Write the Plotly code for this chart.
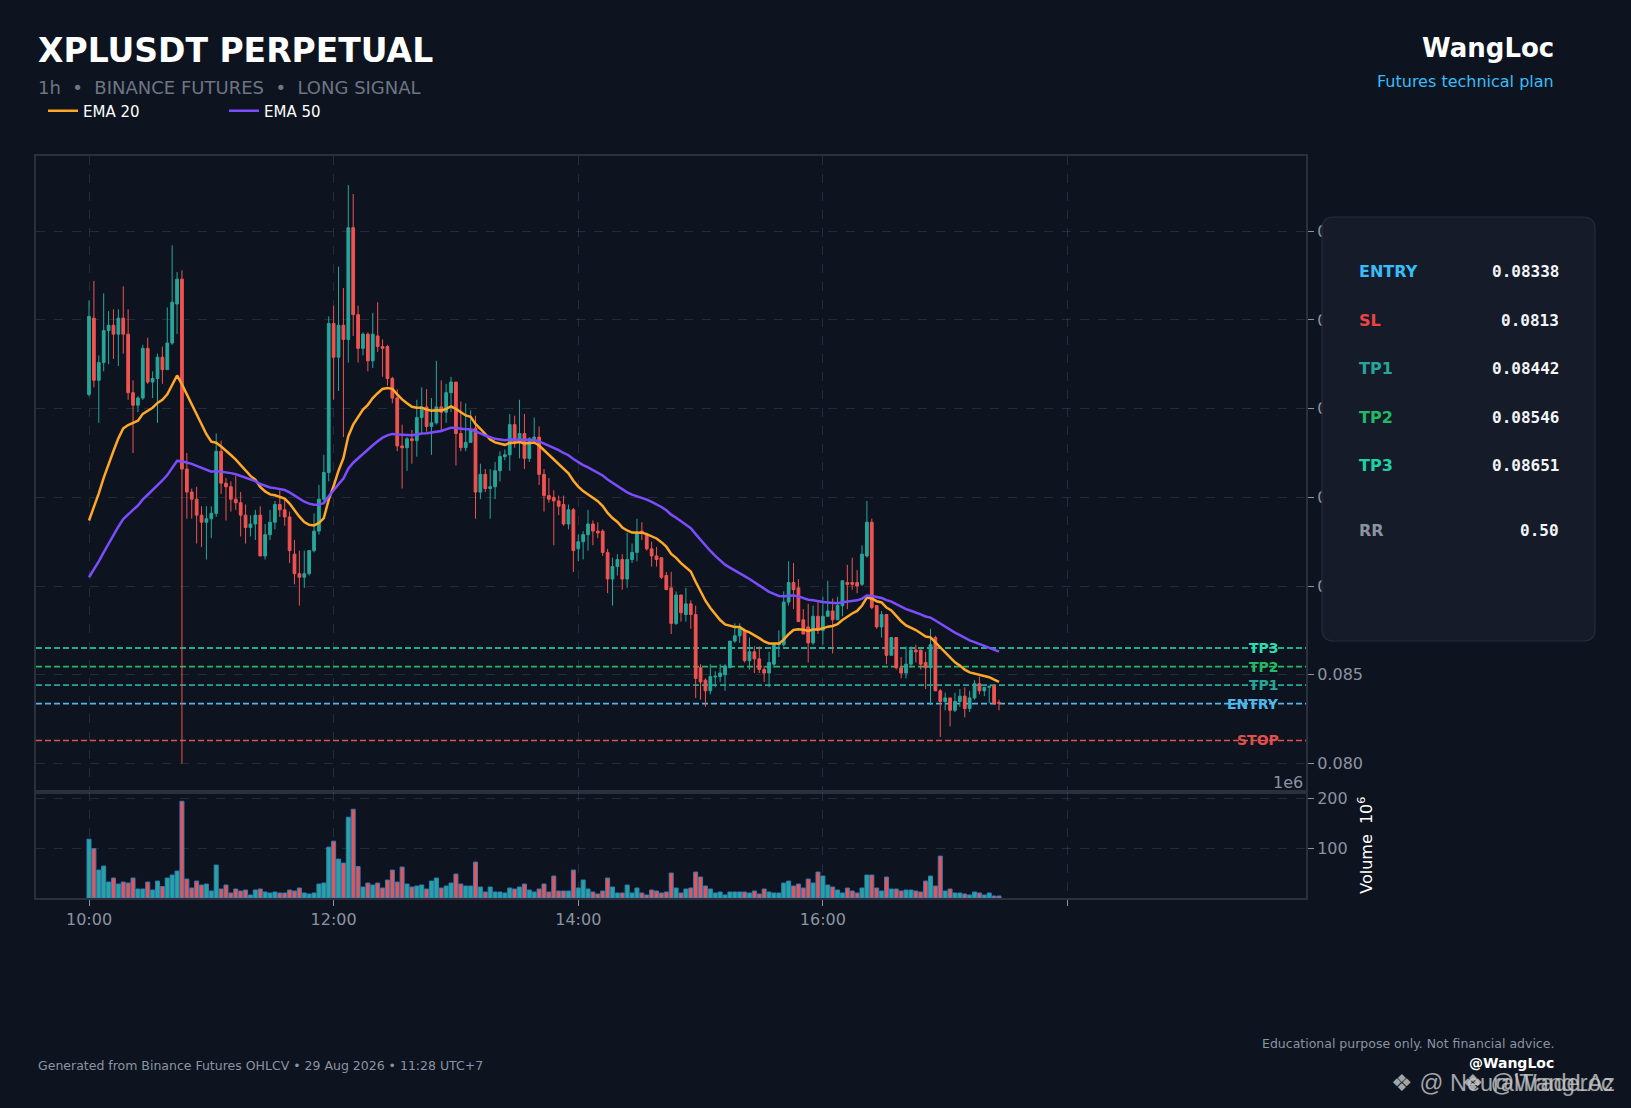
import pandas as pd
import plotly.graph_objects as go

# ---- values ----
START = "2026-08-29 10:00"
BAR_SECONDS = 144  # spacing of the candles on the time axis

open_ = [
    0.1008, 0.1051, 0.1016, 0.1026, 0.1044, 0.1047, 0.1042, 0.1051, 0.1042, 0.1009,
    0.1002, 0.1006, 0.1034, 0.1015, 0.1017, 0.1029, 0.1022, 0.1037, 0.1059, 0.1073,
    0.0966, 0.0953, 0.0949, 0.0940, 0.0936, 0.0938, 0.0941, 0.0976, 0.0958, 0.0956,
    0.0949, 0.0947, 0.0940, 0.0933, 0.0935, 0.0940, 0.0917, 0.0929, 0.0936, 0.0946,
    0.0943, 0.0939, 0.0918, 0.0907, 0.0905, 0.0907, 0.0920, 0.0931, 0.0949, 0.0964,
    0.1048, 0.1029, 0.1047, 0.1039, 0.1102, 0.1053, 0.1034, 0.1042, 0.1027, 0.1041,
    0.1035, 0.1035, 0.1017, 0.1006, 0.0979, 0.0978, 0.0983, 0.0982, 0.0995, 0.1001,
    0.0990, 0.0992, 0.1001, 0.0998, 0.1009, 0.1015, 0.0986, 0.0978, 0.0981, 0.0989,
    0.0953, 0.0963, 0.0955, 0.0956, 0.0965, 0.0973, 0.0974, 0.0991, 0.0981, 0.0986,
    0.0972, 0.0983, 0.0984, 0.0963, 0.0951, 0.0950, 0.0948, 0.0946, 0.0935, 0.0943,
    0.0921, 0.0925, 0.0929, 0.0935, 0.0931, 0.0931, 0.0919, 0.0904, 0.0911, 0.0915,
    0.0904, 0.0915, 0.0919, 0.0931, 0.0929, 0.0921, 0.0917, 0.0916, 0.0906, 0.0899,
    0.0879, 0.0895, 0.0884, 0.0890, 0.0884, 0.0854, 0.0847, 0.0841, 0.08488, 0.0849,
    0.0850, 0.0854, 0.0869, 0.0872, 0.0875, 0.0858, 0.0863, 0.0859, 0.0853, 0.0851,
    0.0856, 0.0867, 0.0867, 0.0891, 0.0902, 0.0899, 0.0881, 0.0877, 0.0868, 0.0883,
    0.0875, 0.0883, 0.0886, 0.0881, 0.0889, 0.0902, 0.0902, 0.0902, 0.0901, 0.0917,
    0.0936, 0.0889, 0.0877, 0.0884, 0.0861, 0.0871, 0.0854, 0.0851, 0.0856, 0.0864,
    0.0864, 0.0857, 0.0854, 0.0871, 0.0841, 0.0835, 0.0837, 0.0830, 0.0835, 0.0838,
    0.0831, 0.0837, 0.0845, 0.0841, 0.0843, 0.0844, 0.08345,
]
high = [
    0.1061, 0.1072, 0.1030, 0.1065, 0.1055, 0.1056, 0.1056, 0.1069, 0.1056, 0.1016,
    0.1007, 0.1036, 0.1040, 0.1021, 0.1031, 0.1035, 0.1057, 0.1092, 0.1077, 0.1078,
    0.0975, 0.0955, 0.0956, 0.0945, 0.0945, 0.0945, 0.0986, 0.0982, 0.0961, 0.0959,
    0.0962, 0.0953, 0.0946, 0.0940, 0.0943, 0.0945, 0.0935, 0.0943, 0.0948, 0.0954,
    0.0949, 0.0942, 0.0926, 0.0920, 0.0920, 0.0920, 0.0941, 0.0957, 0.0974, 0.1052,
    0.1058, 0.1080, 0.1068, 0.1126, 0.1121, 0.1058, 0.1043, 0.1043, 0.1054, 0.1060,
    0.1039, 0.1036, 0.1018, 0.1011, 0.0991, 0.0984, 0.0988, 0.1005, 0.1012, 0.1011,
    0.1006, 0.1027, 0.1016, 0.1014, 0.1018, 0.1015, 0.1004, 0.1003, 0.0999, 0.0996,
    0.0969, 0.0966, 0.0966, 0.0970, 0.0976, 0.0977, 0.0997, 0.0996, 0.1005, 0.0997,
    0.0984, 0.0995, 0.0990, 0.0966, 0.0961, 0.0954, 0.0951, 0.0951, 0.0946, 0.0944,
    0.0929, 0.0931, 0.0943, 0.0937, 0.0936, 0.0932, 0.0921, 0.0916, 0.0918, 0.0918,
    0.0930, 0.0924, 0.0938, 0.0936, 0.0930, 0.0925, 0.0922, 0.0916, 0.0908, 0.0908,
    0.0897, 0.0895, 0.0899, 0.0892, 0.0889, 0.0856, 0.0848, 0.0856, 0.0852, 0.0856,
    0.0856, 0.0869, 0.0879, 0.0879, 0.0876, 0.0871, 0.0866, 0.0866, 0.0855, 0.0863,
    0.0868, 0.0875, 0.0897, 0.0914, 0.0913, 0.0904, 0.0887, 0.0890, 0.0889, 0.0891,
    0.0894, 0.0903, 0.0893, 0.0894, 0.0903, 0.0912, 0.0916, 0.0909, 0.0923, 0.0948,
    0.0938, 0.0889, 0.0886, 0.0884, 0.0871, 0.0871, 0.0860, 0.0866, 0.0866, 0.0867,
    0.0864, 0.0863, 0.0876, 0.0872, 0.0842, 0.0840, 0.0837, 0.0840, 0.0842, 0.0843,
    0.0841, 0.0847, 0.0849, 0.0843, 0.0844, 0.0844, 0.0836,
]
low = [
    0.1007, 0.1012, 0.0992, 0.1021, 0.1025, 0.1028, 0.1024, 0.1031, 0.1005, 0.0975,
    0.0998, 0.1005, 0.1014, 0.1006, 0.0992, 0.1014, 0.1022, 0.1036, 0.1042, 0.0800,
    0.0938, 0.0938, 0.0924, 0.0922, 0.0915, 0.0927, 0.0939, 0.0952, 0.0937, 0.0942,
    0.0943, 0.0928, 0.0924, 0.0928, 0.0926, 0.0917, 0.0915, 0.0926, 0.0932, 0.0939,
    0.0934, 0.0913, 0.0901, 0.0889, 0.0899, 0.0906, 0.0919, 0.0929, 0.0947, 0.0959,
    0.1005, 0.1010, 0.0984, 0.1026, 0.1041, 0.1026, 0.1030, 0.1021, 0.1023, 0.1032,
    0.1018, 0.1013, 0.1003, 0.0976, 0.0955, 0.0965, 0.0969, 0.0973, 0.0986, 0.0987,
    0.0974, 0.0991, 0.0988, 0.0992, 0.0998, 0.0968, 0.0976, 0.0976, 0.0981, 0.0938,
    0.0949, 0.0953, 0.0938, 0.0949, 0.0959, 0.0971, 0.0965, 0.0978, 0.0972, 0.0966,
    0.0970, 0.0980, 0.0957, 0.0942, 0.0947, 0.0923, 0.0940, 0.0934, 0.0932, 0.0908,
    0.0914, 0.0915, 0.0920, 0.0923, 0.0927, 0.0917, 0.0896, 0.0889, 0.0906, 0.0898,
    0.0899, 0.0913, 0.0914, 0.0926, 0.0920, 0.0911, 0.0911, 0.0904, 0.0898, 0.0873,
    0.0878, 0.0880, 0.0880, 0.0876, 0.0837, 0.0836, 0.0832, 0.0839, 0.0843, 0.0846,
    0.0841, 0.0854, 0.0868, 0.0868, 0.0857, 0.0853, 0.0851, 0.0851, 0.0846, 0.0843,
    0.0854, 0.0860, 0.0866, 0.0889, 0.0887, 0.0880, 0.0873, 0.0857, 0.0867, 0.0873,
    0.0867, 0.0883, 0.0862, 0.0881, 0.0883, 0.0887, 0.0898, 0.0896, 0.0900, 0.0916,
    0.0887, 0.0876, 0.0871, 0.0856, 0.0861, 0.0853, 0.0848, 0.0848, 0.0854, 0.0857,
    0.0853, 0.0842, 0.0833, 0.0841, 0.0815, 0.0830, 0.0821, 0.0829, 0.0832, 0.0826,
    0.0829, 0.0836, 0.0839, 0.0838, 0.0834, 0.0833, 0.0830,
]
close = [
    0.1052, 0.1016, 0.1026, 0.1044, 0.1047, 0.1042, 0.1051, 0.1042, 0.1009, 0.1002,
    0.1006, 0.1034, 0.1015, 0.1017, 0.1029, 0.1022, 0.1037, 0.1060, 0.1073, 0.0966,
    0.0953, 0.0949, 0.0940, 0.0936, 0.0938, 0.0941, 0.0976, 0.0958, 0.0956, 0.0949,
    0.0947, 0.0940, 0.0933, 0.0935, 0.0940, 0.0917, 0.0929, 0.0936, 0.0946, 0.0943,
    0.0939, 0.0920, 0.0907, 0.0905, 0.0907, 0.0920, 0.0931, 0.0949, 0.0964, 0.1048,
    0.1029, 0.1047, 0.1039, 0.1102, 0.1053, 0.1034, 0.1042, 0.1027, 0.1042, 0.1035,
    0.1034, 0.1017, 0.1006, 0.0979, 0.0978, 0.0983, 0.0982, 0.0995, 0.1001, 0.0990,
    0.0992, 0.1001, 0.0998, 0.1009, 0.1015, 0.0986, 0.0978, 0.0981, 0.0988, 0.0953,
    0.0963, 0.0955, 0.0956, 0.0965, 0.0973, 0.0974, 0.0991, 0.0981, 0.0986, 0.0972,
    0.0983, 0.0984, 0.0963, 0.0951, 0.0949, 0.0948, 0.0945, 0.0935, 0.0943, 0.0920,
    0.0925, 0.0929, 0.0935, 0.0931, 0.0930, 0.0919, 0.0904, 0.0911, 0.0915, 0.0904,
    0.0915, 0.0919, 0.0930, 0.0930, 0.0921, 0.0917, 0.0915, 0.0905, 0.0898, 0.0879,
    0.0895, 0.0885, 0.0890, 0.0884, 0.0848, 0.0846, 0.0841, 0.0849, 0.08492, 0.0851,
    0.0855, 0.0869, 0.0872, 0.0876, 0.0858, 0.0863, 0.0859, 0.0853, 0.0851, 0.0857,
    0.0867, 0.08675, 0.0891, 0.0902, 0.0898, 0.0880, 0.0873, 0.0868, 0.0883, 0.0875,
    0.0883, 0.0886, 0.0881, 0.0889, 0.0903, 0.0901, 0.0901, 0.0900, 0.0918, 0.0936,
    0.0888, 0.0877, 0.0884, 0.0861, 0.0871, 0.0854, 0.0851, 0.0856, 0.0864, 0.0863,
    0.0856, 0.0854, 0.0867, 0.0841, 0.0835, 0.0837, 0.0830, 0.0835, 0.0838, 0.0831,
    0.0837, 0.0845, 0.0841, 0.0843, 0.08435, 0.0834, 0.0834,
]
volume_m = [  # millions
    118, 99, 56, 64, 32, 40, 28, 32, 30, 40,
    18, 18, 32, 16, 34, 23, 40, 46, 54, 194,
    38, 20, 34, 26, 28, 14, 66, 18, 26, 10,
    18, 14, 16, 6, 16, 18, 12, 10, 12, 10,
    10, 16, 14, 20, 10, 8, 10, 28, 30, 102,
    114, 78, 70, 162, 178, 63, 22, 30, 26, 30,
    20, 36, 56, 32, 62, 28, 22, 24, 26, 18,
    34, 40, 20, 24, 30, 48, 28, 24, 24, 72,
    22, 12, 22, 12, 12, 10, 20, 18, 22, 28,
    16, 12, 18, 28, 12, 44, 14, 14, 14, 56,
    20, 36, 18, 12, 8, 14, 40, 22, 10, 10,
    26, 10, 20, 10, 6, 16, 14, 10, 12, 50,
    20, 10, 18, 20, 52, 42, 24, 18, 10, 12,
    6, 12, 12, 12, 12, 10, 14, 8, 18, 12,
    10, 10, 30, 34, 24, 28, 20, 38, 30, 52,
    44, 26, 22, 16, 10, 20, 14, 10, 20, 46,
    46, 20, 14, 42, 18, 18, 14, 16, 16, 14,
    12, 34, 44, 24, 84, 14, 18, 10, 10, 8,
    6, 12, 10, 6, 10, 4, 4,
]

# EMA values at the first visible candle (history before 10:00 is not shown)
EMA20_START = 0.0937
EMA50_START = 0.0905

LEVEL_NAMES = ["TP3", "TP2", "TP1", "ENTRY", "STOP"]
LEVEL_PRICES = [0.08651, 0.08546, 0.08442, 0.08338, 0.0813]
LEVEL_COLORS = ["#2ddcb0", "#27b865", "#26a69a", "#4fb8e8", "#e0504d"]

PANEL_LABELS = ["ENTRY", "SL", "TP1", "TP2", "TP3", "RR"]
PANEL_VALUES = ["0.08338", "0.0813", "0.08442", "0.08546", "0.08651", "0.50"]
PANEL_COLORS = ["#38bdf8", "#ef4444", "#26a69a", "#22b866", "#1fd1a6", "#8b93a1"]

PRICE_TICKS = [0.080, 0.085, 0.090, 0.095, 0.100, 0.105, 0.110]
VOLUME_TICKS = [100, 200]
TIME_TICKS = ["2026-08-29 10:00", "2026-08-29 12:00", "2026-08-29 14:00",
              "2026-08-29 16:00", "2026-08-29 18:00"]
TIME_LABELS = ["10:00", "12:00", "14:00", "16:00", ""]

# ---- colours ----
BG = "#0d1420"
UP = "#26a69a"
DOWN = "#ef5350"
FRAME = "#2a303c"
GRID = "rgba(120,130,150,0.22)"
TICK = "#8c93a0"
FONT = "DejaVu Sans"

W, H = 1631, 1108
PL, PR, PT, PB = 36, 1306, 156, 898  # plot area in pixels


def px(x):
    return (x - PL) / (PR - PL)


def py(y):
    return (PB - y) / (PB - PT)


def ema(values, span, start):
    a = 2 / (span + 1)
    out = [start]
    for v in values[1:]:
        out.append(a * v + (1 - a) * out[-1])
    return out


times = pd.date_range(START, periods=len(close), freq=f"{BAR_SECONDS}s")
ema20 = ema(close, 20, EMA20_START)
ema50 = ema(close, 50, EMA50_START)
vol_colors = [UP if c >= o else DOWN for o, c in zip(open_, close)]

fig = go.Figure()

fig.add_trace(go.Candlestick(
    x=times, open=open_, high=high, low=low, close=close,
    increasing=dict(line=dict(color=UP, width=1), fillcolor=UP),
    decreasing=dict(line=dict(color=DOWN, width=1), fillcolor=DOWN),
    showlegend=False, hoverinfo="skip", xaxis="x", yaxis="y",
))
fig.add_trace(go.Scatter(
    x=times, y=ema20, mode="lines", name="EMA 20",
    line=dict(color="#ffa726", width=2.5), xaxis="x", yaxis="y",
))
fig.add_trace(go.Scatter(
    x=times, y=ema50, mode="lines", name="EMA 50",
    line=dict(color="#7c4dff", width=2.5), xaxis="x", yaxis="y",
))
fig.add_trace(go.Bar(
    x=times, y=volume_m, showlegend=False,
    marker=dict(color=vol_colors, line=dict(color="#2f7fc1", width=1)),
    xaxis="x2", yaxis="y2",
))

x_range = [times[0] - pd.Timedelta(minutes=26), times[0] + pd.Timedelta(minutes=597)]
split = py(792.3)

axis_common = dict(showline=True, mirror=True, linecolor=FRAME, linewidth=2,
                   gridcolor=GRID, griddash="dash", gridwidth=1, zeroline=False)

shapes = []
annotations = []

# trade levels
for name, price, color in zip(LEVEL_NAMES, LEVEL_PRICES, LEVEL_COLORS):
    shapes.append(dict(type="line", xref="paper", yref="y", x0=0, x1=1, y0=price, y1=price,
                       line=dict(color=color, width=1.6, dash="6px,3px"), layer="below"))
    annotations.append(dict(xref="paper", yref="y", x=px(1281), y=price, text=f"<b>{name}</b>",
                            showarrow=False, xanchor="right", yanchor="middle",
                            font=dict(family=FONT, size=14, color=color)))

# side panel
x0, x1, y0, y1 = px(1322), px(1595), py(641), py(217)
rx, ry = 12 / (PR - PL), 12 / (PB - PT)
panel_path = (f"M {x0 + rx},{y0} L {x1 - rx},{y0} Q {x1},{y0} {x1},{y0 + ry} "
              f"L {x1},{y1 - ry} Q {x1},{y1} {x1 - rx},{y1} L {x0 + rx},{y1} "
              f"Q {x0},{y1} {x0},{y1 - ry} L {x0},{y0 + ry} Q {x0},{y0} {x0 + rx},{y0} Z")
shapes.append(dict(type="path", xref="paper", yref="paper", path=panel_path,
                   fillcolor="#161b29", line=dict(color="#262c3a", width=1.2), layer="above"))

row_y = [271, 320, 368.3, 417, 465.7, 530.7]
for label, value, color, yy in zip(PANEL_LABELS, PANEL_VALUES, PANEL_COLORS, row_y):
    annotations.append(dict(xref="paper", yref="paper", x=px(1357), y=py(yy), text=f"<b>{label}</b>",
                            showarrow=False, xanchor="left", yanchor="middle",
                            font=dict(family=FONT, size=16, color=color)))
    annotations.append(dict(xref="paper", yref="paper", x=px(1561), y=py(yy), text=f"<b>{value}</b>",
                            showarrow=False, xanchor="right", yanchor="middle",
                            font=dict(family="DejaVu Sans Mono", size=16, color="#f2f4f8")))

# header / footer texts
def note(x, y, text, size, color, anchor="left", family=FONT, opacity=1):
    annotations.append(dict(xref="paper", yref="paper", x=px(x), y=py(y), text=text,
                            showarrow=False, xanchor=anchor, yanchor="middle", opacity=opacity,
                            font=dict(family=family, size=size, color=color)))


note(36, 50, "<b>XPLUSDT PERPETUAL</b>", 33, "#ffffff")
note(36, 87, "1h  •  BINANCE FUTURES  •  LONG SIGNAL", 18, "#6e7583")
note(1556, 48, "<b>WangLoc</b>", 26, "#ffffff", anchor="right")
note(1556, 81, "Futures technical plan", 16, "#38bdf8", anchor="right")
note(1305, 782, "1e6", 16, TICK, anchor="right")
note(36, 1065, "Generated from Binance Futures OHLCV • 29 Aug 2026 • 11:28 UTC+7", 12.5, "#8b93a1")
note(1556, 1043, "Educational purpose only. Not financial advice.", 12.5, "#8b93a1", anchor="right")
note(1556, 1063, "<b>@WangLoc</b>", 14, "#ffffff", anchor="right")
note(1389, 1083, "❖ @ NeuralTraderAz", 23.5, "#c8c8c8", family="Liberation Sans", opacity=0.8)
note(1460, 1083, "❖ @WangLoc", 23.5, "#c8c8c8", family="Liberation Sans", opacity=0.8)

fig.update_layout(
    width=W, height=H,
    margin=dict(l=PL, r=W - PR, t=PT, b=H - PB),
    paper_bgcolor=BG, plot_bgcolor=BG,
    font=dict(family=FONT, color=TICK, size=16),
    boxgap=0.2, bargap=0.18,
    showlegend=True,
    legend=dict(orientation="h", x=px(43), y=py(111), xanchor="left", yanchor="middle",
                bgcolor="rgba(0,0,0,0)", font=dict(size=15, color="#ffffff"),
                entrywidth=136, entrywidthmode="pixels", itemwidth=30),
    xaxis=dict(domain=[0, 1], anchor="y", type="date", range=x_range,
               tickvals=TIME_TICKS, showticklabels=False, ticks="",
               rangeslider=dict(visible=False), **axis_common),
    xaxis2=dict(domain=[0, 1], anchor="y2", type="date", range=x_range, matches="x",
                tickvals=TIME_TICKS, ticktext=TIME_LABELS, ticks="outside", ticklen=6,
                tickcolor=TICK, tickfont=dict(size=16, color=TICK), **axis_common),
    yaxis=dict(domain=[split, 1], anchor="x", side="right", range=[0.07838, 0.11424],
               tickvals=PRICE_TICKS, tickformat=".3f", ticks="outside", ticklen=6,
               tickcolor=TICK, tickfont=dict(size=16, color=TICK), **axis_common),
    yaxis2=dict(domain=[0, split], anchor="x2", side="right", range=[0, 212],
                tickvals=VOLUME_TICKS, ticks="outside", ticklen=6, tickcolor=TICK,
                tickfont=dict(size=16, color=TICK),
                title=dict(text="Volume  10<sup>6</sup>", font=dict(size=16, color="#ffffff"), standoff=14),
                **axis_common),
    shapes=shapes,
    annotations=annotations,
)

# page without the browser's default body margin, so the figure fills the window
fig.write_html("out.html", config={"displayModeBar": False}, post_script=(
    "document.body.style.margin='0';"
    "document.body.style.background='" + BG + "';"
    "document.body.style.overflow='hidden';"
))
